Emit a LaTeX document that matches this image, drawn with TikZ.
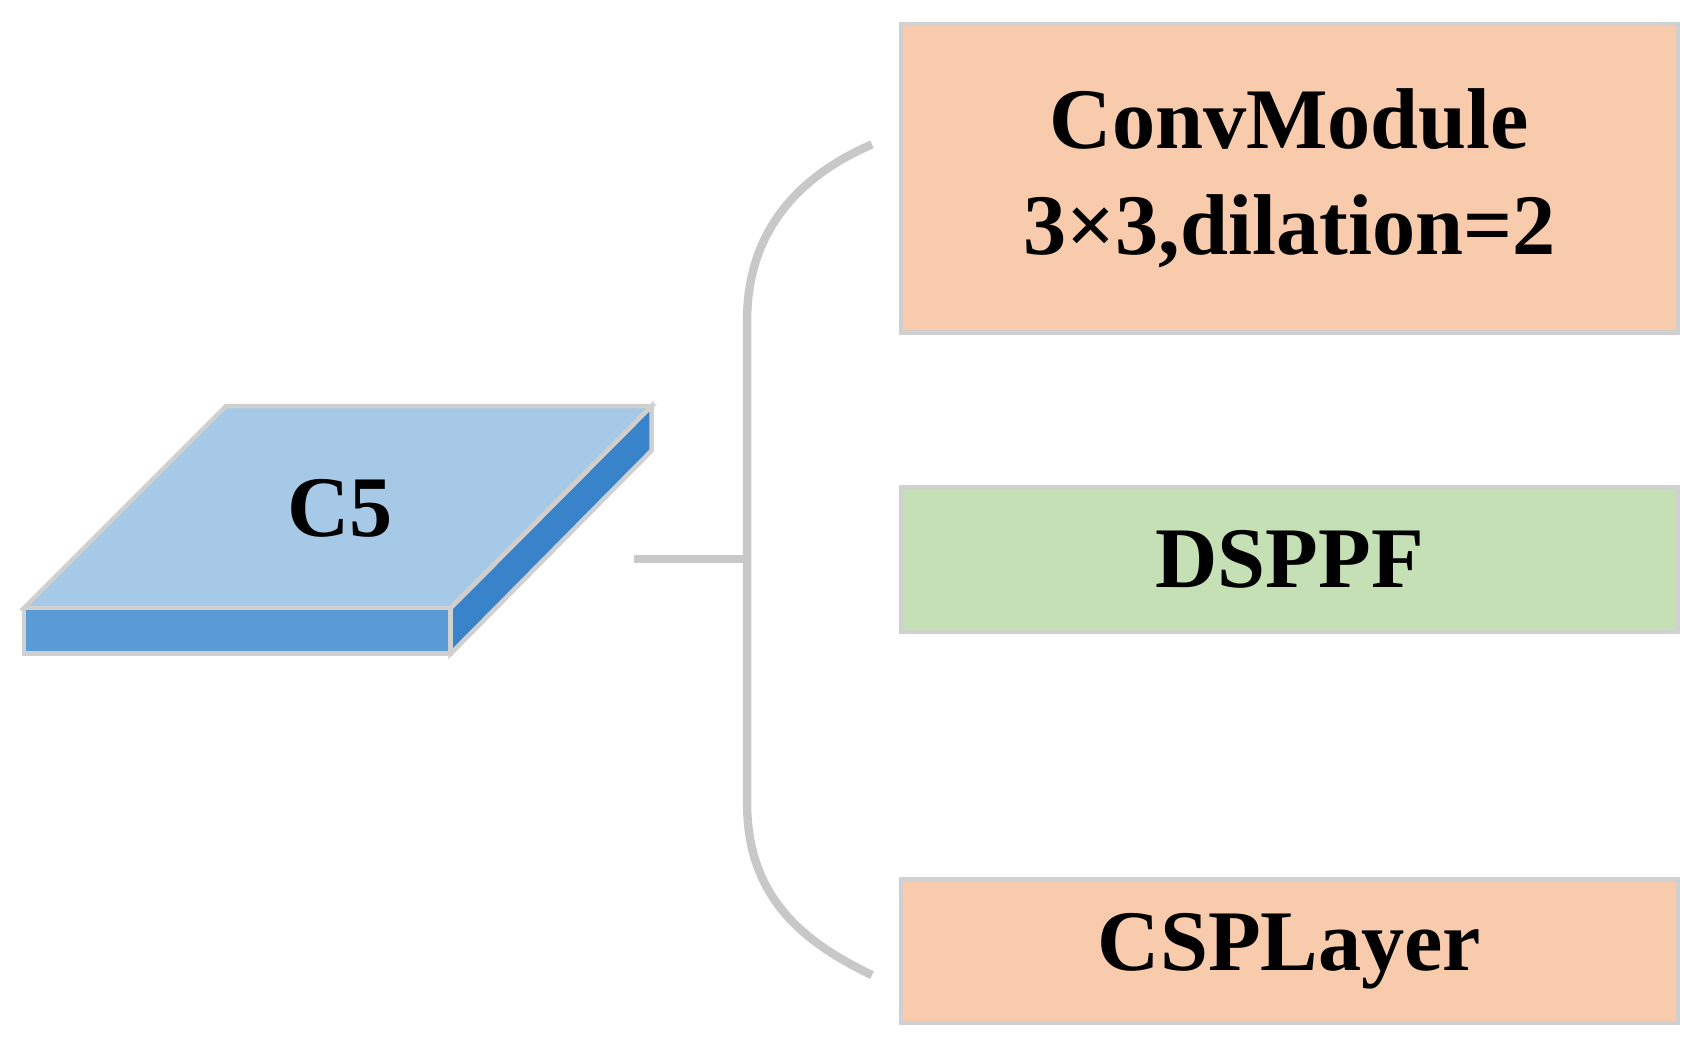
\documentclass[tikz,border=0pt]{standalone}
\usepackage{fontspec}
\setmainfont{Liberation Serif}
\usepackage{tikz}
\usepackage{xcolor}

\definecolor{peach}{HTML}{F8CBAD}
\definecolor{mint}{HTML}{C5E0B4}
\definecolor{slabtop}{HTML}{A6C9E8}
\definecolor{slabfront}{HTML}{5B9BD5}
\definecolor{slabside}{HTML}{3883C9}
\definecolor{rim}{HTML}{D0D0D0}
\definecolor{brace}{HTML}{C8C8C8}

\tikzset{
    block/.style={draw=rim, line width=1.2pt, inner sep=0pt, minimum width=7.15cm,
        align=center, font=\fontsize{22.6}{27.6}\selectfont\bfseries},
    link/.style={draw=brace, line width=2.2pt}
}

\begin{document}
\begin{tikzpicture}[x=0.01cm, y=-0.01cm]

        \useasboundingbox (0,0) rectangle (1560,958);

        % C5 Platte
        \draw[rim, line width=1.2pt, fill=slabtop] (208,374) -- (600,374) -- (415,560) -- (22,560) -- cycle;
        \draw[rim, line width=1.2pt, fill=slabfront] (22,560) rectangle (415,602);
        \draw[rim, line width=1.2pt, fill=slabside] (415,560) -- (600,374) -- (600,415) -- (415,602) -- cycle;
        \node[font=\fontsize{22.6}{27.6}\selectfont\bfseries] at (313,468) (c5) {C5};

        % Bloecke rechts
        \node[block, fill=peach, minimum height=2.84cm] at (1187.5,164) (conv) {ConvModule\\3×3,dilation=2};
        \node[block, fill=mint, minimum height=1.33cm] at (1187.5,515.5) (dsppf) {DSPPF};
        \node[block, fill=peach, minimum height=1.32cm] at (1187.5,876) (csp) {CSPLayer};

        % Klammer
        \coordinate (stem) at (584,515);
        \coordinate (fork) at (688,515);
        \coordinate (top) at (803,133);
        \coordinate (bottom) at (803,898);

        \draw[link] (stem) -- (fork);
        \draw[link] (top) .. controls (745,158) and (688,205) .. (688,295)
            -- (688,740) .. controls (688,830) and (745,870) .. (bottom);

    \end{tikzpicture}
\end{document}
